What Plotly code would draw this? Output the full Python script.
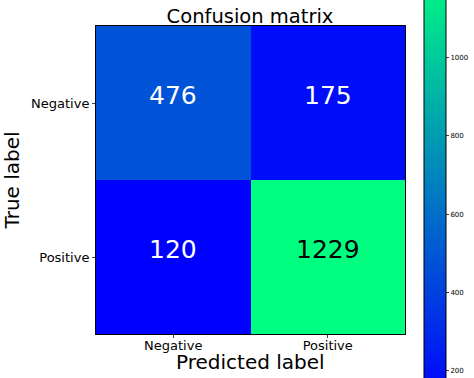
import plotly.graph_objects as go

pred_labels = ["Negative", "Positive"]
true_labels = ["Negative", "Positive"]
counts = [[476, 175], [120, 1229]]
cbar_ticks = [200, 400, 600, 800, 1000]

winter = [[0.0, "rgb(0,0,255)"], [1.0, "rgb(0,255,128)"]]
zmin = min(min(r) for r in counts)
zmax = max(max(r) for r in counts)
thresh = (zmin + zmax) / 2

W, H = 474, 378
L, T = 96, 26
PW, PH = 309, 308

fig = go.Figure()
fig.add_trace(go.Heatmap(
    z=counts, x=pred_labels, y=true_labels,
    colorscale=winter, zmin=zmin, zmax=zmax,
    hoverinfo="skip",
    colorbar=dict(
        x=(424 - L) / PW, xanchor="left", xref="paper",
        thickness=22, thicknessmode="pixels",
        len=434, lenmode="pixels",
        y=(T + PH + 32) / PH, yanchor="top",
        outlinecolor="black", outlinewidth=1,
        tickvals=cbar_ticks, ticks="outside", ticklen=3,
        tickfont=dict(family="DejaVu Sans", size=7, color="black"),
        xpad=0, ypad=0,
    ),
))

for i, row in enumerate(counts):
    for j, v in enumerate(row):
        fig.add_annotation(
            x=pred_labels[j], y=true_labels[i], text=str(v), showarrow=False,
            yshift=8,
            font=dict(family="DejaVu Sans", size=25,
                      color="white" if v < thresh else "black"),
        )

fig.add_annotation(
    text="Predicted label", xref="paper", yref="paper",
    x=(250 - L) / PW, y=-(362 - (T + PH)) / PH,
    xanchor="center", yanchor="middle", showarrow=False,
    font=dict(family="DejaVu Sans", size=20, color="black"),
)

fig.update_layout(
    width=W, height=H,
    margin=dict(l=L, r=W - L - PW, t=T, b=H - T - PH, autoexpand=False),
    paper_bgcolor="white", plot_bgcolor="white",
    font=dict(family="DejaVu Sans", color="black"),
    title=dict(text="Confusion matrix", x=250 / W, xanchor="center",
               y=1 - 16 / H, yanchor="middle",
               font=dict(size=19.5, color="black")),
    xaxis=dict(
        tickfont=dict(size=13), ticks="outside", ticklen=3,
        ticklabelstandoff=-4,
        showline=True, linecolor="black", linewidth=1, mirror=True,
        showgrid=False, zeroline=False,
    ),
    yaxis=dict(
        title=dict(text="True label", font=dict(size=20), standoff=6),
        tickfont=dict(size=13), ticks="outside", ticklen=3,
        autorange="reversed",
        showline=True, linecolor="black", linewidth=1, mirror=True,
        showgrid=False, zeroline=False,
    ),
)

fig.write_html("out.html", config={"displayModeBar": False},
               post_script="document.body.style.margin='0';document.body.style.overflow='hidden';")
